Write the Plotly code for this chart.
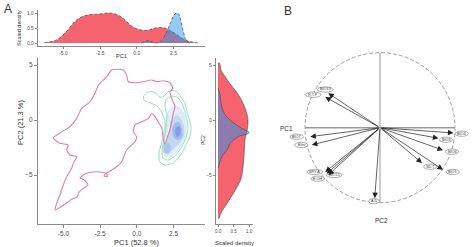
import plotly.graph_objects as go

W, H = 474, 247
FONT = "Liberation Sans"

# ---------------- Panel A data ----------------
# top marginal density of PC1 (scaled)
pc1_red = [-6.3, -5.9, -5.4, -4.8, -4.1, -3.4, -2.5, -1.8, -1.15, -0.67, -0.26, 0.22, 0.7, 1.1, 1.5, 1.9, 2.4, 2.9, 3.4, 3.8, 4.2]
dens_pc1_red = [0.01, 0.04, 0.12, 0.38, 0.77, 0.93, 0.97, 1.0, 0.9, 0.7, 0.53, 0.44, 0.42, 0.48, 0.52, 0.5, 0.38, 0.22, 0.08, 0.03, 0.0]
pc1_blue = [0.3, 0.6, 0.85, 1.1, 1.4, 1.7, 2.0, 2.3, 2.5, 2.7, 2.85, 3.0, 3.2, 3.4, 3.6]
dens_pc1_blue = [0.0, 0.06, 0.08, 0.02, 0.01, 0.08, 0.33, 0.68, 0.9, 1.0, 0.97, 0.75, 0.33, 0.06, 0.0]

# right marginal density of PC2 (scaled)
pc2_red = [5.2, 5.15, 4.5, 3.94, 3.3, 2.73, 2.1, 1.5, 0.6, -0.15, -0.7, -1.06, -1.4, -1.8, -2.7, -3.9, -5.15, -5.8, -6.4, -7.0, -7.6, -8.1, -8.5, -8.9, -8.95]
dens_pc2_red = [0.0, 0.05, 0.1, 0.23, 0.38, 0.55, 0.7, 0.81, 0.93, 0.97, 0.95, 0.93, 0.9, 0.87, 0.85, 0.82, 0.76, 0.67, 0.55, 0.42, 0.29, 0.17, 0.08, 0.04, 0.0]
pc2_blue = [2.9, 2.45, 1.5, 0.6, -0.15, -0.75, -1.15, -1.5, -2.1, -2.7, -3.3, -3.9, -4.4]
dens_pc2_blue = [0.0, 0.05, 0.1, 0.2, 0.45, 0.77, 1.0, 0.67, 0.4, 0.3, 0.13, 0.05, 0.0]

# 2D density contour of group 1 (pink)
pink_pc1 = [-1.38, -0.93, -0.70, -0.58, -0.12, 0.44, 1.02, 1.36, 1.81, 2.26, 2.45, 2.26, 2.38, 2.60, 2.49, 2.40, 2.26, 2.06, 1.92,
            1.79, 1.70, 1.45, 1.24, 1.02, 0.79, 0.34, -0.12, -0.24, -0.01, -0.12, -0.35, -0.69, -1.03, -1.37, -1.71, -2.10,
            -2.24, -2.00, -2.10, -2.51, -3.05, -3.53, -3.87, -3.60, -3.33, -3.60, -3.94, -4.08, -4.42, -4.69, -5.10, -5.58,
            -5.46, -5.24, -5.01, -4.78, -4.44, -4.33, -4.10, -4.55, -4.78, -4.67, -5.24, -5.70, -5.24, -4.55, -4.10, -3.76,
            -3.19, -2.85, -2.62, -2.05, -1.71, -1.38]
pink_pc2 = [4.61, 4.55, 4.09, 3.48, 3.39, 3.48, 3.64, 3.48, 3.57, 3.39, 2.88, 2.57, 1.97, 1.21, 0.61, 0.0, -0.91, -1.64, -2.18,
            -1.64, -0.73, -0.15, 0.30, 0.59, 0.15, -0.15, -0.45, -1.06, -1.52, -1.97, -2.27, -2.73, -3.79, -4.25, -4.55, -4.85,
            -5.09, -5.15, -4.85, -4.73, -4.73, -4.91, -5.27, -5.45, -5.91, -6.18, -6.55, -7.00, -7.18, -7.45, -7.82, -8.18,
            -7.57, -6.82, -5.91, -5.15, -4.39, -3.94, -3.34, -3.18, -2.73, -2.27, -2.12, -1.64, -1.18, -0.61, 0.15, 1.06,
            1.66, 2.43, 3.18, 3.94, 4.55, 4.61]

# 2D density contours of group 2 (green lines, blue fills)
g1_pc1 = [0.44, 0.67, 1.02, 1.31, 1.58, 1.85, 2.13, 2.40, 2.74, 3.01, 3.29, 3.49, 3.69, 3.63, 3.29, 2.94, 2.47, 1.92, 1.58, 1.51, 1.70, 1.85, 1.92, 1.72, 1.38, 0.90, 0.56, 0.44]
g1_pc2 = [2.09, 2.45, 2.59, 2.45, 2.05, 2.18, 2.55, 2.68, 2.59, 2.09, 1.45, 0.45, -0.55, -1.45, -2.45, -3.27, -3.91, -4.09, -3.82, -3.0, -2.09, -1.18, -0.27, 0.64, 1.27, 1.55, 1.73, 2.09]
g2_pc1 = [1.99, 2.40, 2.81, 3.15, 3.35, 3.49, 3.35, 3.01, 2.60, 2.13, 1.79, 1.72, 1.85, 1.99, 2.06, 1.92, 1.99]
g2_pc2 = [1.82, 2.18, 2.00, 1.27, 0.36, -0.64, -1.64, -2.55, -3.27, -3.64, -3.45, -2.73, -1.82, -0.73, 0.36, 1.27, 1.82]
g3_pc1 = [2.13, 2.67, 3.15, 3.35, 3.29, 2.88, 2.40, 1.92, 1.79, 1.99, 1.99, 2.13]
g3_pc2 = [0.73, 1.27, 0.73, -0.36, -1.64, -2.55, -3.27, -3.27, -2.36, -1.09, 0.0, 0.73]
g4_pc1 = [2.33, 2.81, 3.15, 3.22, 2.88, 2.40, 1.99, 1.85, 2.13, 2.26, 2.33]
g4_pc2 = [0.0, 0.36, -0.36, -1.36, -2.09, -2.73, -3.0, -2.36, -1.64, -0.73, 0.0]
g5_pc1 = [2.54, 2.88, 3.08, 3.08, 2.81, 2.54, 2.40, 2.54]
g5_pc2 = [-0.36, -0.18, -0.73, -1.55, -1.82, -1.64, -1.0, -0.36]
g6_pc1 = [1.85, 2.19, 2.33, 2.13, 1.85, 1.85]
g6_pc2 = [-2.27, -2.09, -2.64, -3.09, -2.91, -2.27]
g7_pc1 = [2.67, 2.94, 3.01, 2.81, 2.60, 2.67]
g7_pc2 = [-0.64, -0.55, -1.18, -1.55, -1.27, -0.64]

pc1_ticks = [-5.0, -2.5, 0.0, 2.5]
pc1_ticktext = ["-5.0", "-2.5", "0.0", "2.5"]
pc2_ticks = [-5, 0, 5]
dens_ticks = [0.0, 0.5, 1.0]
dens_ticktext = ["0.0", "0.5", "1.0"]

# ---------------- Panel B data ----------------
var_names = ["BIO19", "R.T.P", "BIO7", "Elev", "SRY.A", "E.CH", "BIO15", "A.D", "BIO4", "BIO3", "BIO6", "SD.T", "BIO1"]
load_pc1 = [-0.69, -0.73, -0.93, -0.91, -0.73, -0.71, -0.69, -0.07, 0.98, 0.78, 0.84, 0.56, 0.84]
load_pc2 = [0.46, 0.41, -0.12, -0.23, -0.59, -0.61, -0.63, -0.94, -0.07, -0.14, -0.30, -0.47, -0.56]
lab_pc1 = [-0.73, -0.89, -1.11, -1.05, -0.87, -0.83, -0.61, -0.08, 1.09, 0.88, 0.96, 0.67, 0.97]
lab_pc2 = [0.51, 0.44, -0.12, -0.23, -0.59, -0.68, -0.63, -0.98, -0.08, -0.16, -0.32, -0.52, -0.59]

RED = "#F5636E"
BLUE = "rgba(35,150,235,0.5)"
PINK = "#EE7AA2"
GREEN = "#8FE2BD"

fig = go.Figure()

# top density
fig.add_trace(go.Scatter(x=pc1_red, y=dens_pc1_red, mode="lines", fill="tozeroy", fillcolor=RED,
                         line=dict(color="#555", width=0.8, dash="3px,2px", shape="spline"), xaxis="x2", yaxis="y2"))
fig.add_trace(go.Scatter(x=pc1_blue, y=dens_pc1_blue, mode="lines", fill="tozeroy", fillcolor=BLUE,
                         line=dict(color="#555", width=0.8, dash="3px,2px", shape="spline"), xaxis="x2", yaxis="y2"))
# right density
fig.add_trace(go.Scatter(x=dens_pc2_red, y=pc2_red, mode="lines", fill="tozerox", fillcolor=RED,
                         line=dict(color="#444", width=0.6, shape="spline"), xaxis="x3", yaxis="y3"))
fig.add_trace(go.Scatter(x=dens_pc2_blue, y=pc2_blue, mode="lines", fill="tozerox", fillcolor=BLUE,
                         line=dict(color="#444", width=0.6, shape="spline"), xaxis="x3", yaxis="y3"))

# contours: blue fills
fills = [(g3_pc1, g3_pc2, "rgba(200,222,245,0.55)"), (g4_pc1, g4_pc2, "rgba(172,198,240,0.55)"),
         (g5_pc1, g5_pc2, "rgba(140,168,235,0.6)"), (g6_pc1, g6_pc2, "rgba(150,178,236,0.55)"),
         (g7_pc1, g7_pc2, "rgba(115,145,230,0.65)")]
for fx, fy, fc in fills:
    fig.add_trace(go.Scatter(x=fx, y=fy, mode="lines", fill="toself", fillcolor=fc,
                             line=dict(color="rgba(160,215,220,0.6)", width=0.6, shape="spline", smoothing=0.8),
                             xaxis="x", yaxis="y"))
for gx, gy in [(g1_pc1, g1_pc2), (g2_pc1, g2_pc2)]:
    fig.add_trace(go.Scatter(x=gx, y=gy, mode="lines", line=dict(color=GREEN, width=1, shape="spline", smoothing=0.8),
                             xaxis="x", yaxis="y"))
fig.add_trace(go.Scatter(x=pink_pc1, y=pink_pc2, mode="lines", line=dict(color=PINK, width=1.1, shape="spline", smoothing=0.6),
                         xaxis="x", yaxis="y"))

axis_common = dict(showgrid=False, zeroline=False, showline=True, linecolor="#8a8a8a", linewidth=1.2,
                   ticks="outside", ticklen=3, tickwidth=0.8, tickcolor="#8a8a8a",
                   tickfont=dict(family=FONT, size=6.5, color="#4d4d4d"))

x_main = [38 / W, 205 / W]
y_main = [1 - 224 / H, 1 - 58 / H]
xr_main = [(38 - 136.8) / 14.67, (205 - 136.8) / 14.67]
yr_main = [(120 - 224) / 11, (120 - 58) / 11]

fig.update_layout(
    width=W, height=H, margin=dict(l=0, r=0, t=0, b=0), showlegend=False,
    paper_bgcolor="white", plot_bgcolor="rgba(0,0,0,0)",
    xaxis=dict(domain=x_main, range=xr_main, anchor="y", tickvals=pc1_ticks, ticktext=pc1_ticktext, **axis_common),
    yaxis=dict(domain=y_main, range=yr_main, anchor="x", tickvals=pc2_ticks, **axis_common),
    xaxis2=dict(domain=x_main, range=xr_main, anchor="y2", tickvals=pc1_ticks, ticktext=pc1_ticktext,
                **{**axis_common, "tickfont": dict(family=FONT, size=5, color="#4d4d4d"), "ticklen": 2}),
    yaxis2=dict(domain=[1 - 46 / H, 1 - 10 / H], range=[-0.1, 1.1], anchor="x2", tickvals=dens_ticks, ticktext=dens_ticktext,
                **{**axis_common, "tickfont": dict(family=FONT, size=5, color="#4d4d4d"), "ticklen": 2}),
    xaxis3=dict(domain=[216 / W, 253 / W], range=[(216 - 218) / 31, (253 - 218) / 31], anchor="y3",
                tickvals=dens_ticks, ticktext=dens_ticktext,
                **{**axis_common, "tickfont": dict(family=FONT, size=4.5, color="#4d4d4d"), "ticklen": 2}),
    yaxis3=dict(domain=y_main, range=yr_main, anchor="x3", tickvals=pc2_ticks,
                **{**axis_common, "tickfont": dict(family=FONT, size=5, color="#4d4d4d"), "ticklen": 2}),
    xaxis4=dict(domain=[285 / W, 474 / W], range=[(285 - 380) / 75, (474 - 380) / 75], anchor="y4", visible=False),
    yaxis4=dict(domain=[1 - 225 / H, 1 - 35 / H], range=[(127.7 - 225) / 75, (127.7 - 35) / 75], anchor="x4", visible=False),
)

# Panel B guides
fig.add_shape(type="circle", xref="x4", yref="y4", x0=-1, x1=1, y0=-1, y1=1,
              line=dict(color="#888", width=0.8, dash="4px,2px"))
fig.add_shape(type="line", xref="x4", yref="y4", x0=-1, x1=1, y0=0, y1=0, line=dict(color="#999", width=1.6))
fig.add_shape(type="line", xref="x4", yref="y4", x0=0, x1=0, y0=-1, y1=1, line=dict(color="#999", width=1))

for name, x, y, lx, ly in zip(var_names, load_pc1, load_pc2, lab_pc1, lab_pc2):
    fig.add_annotation(x=x, y=y, ax=0, ay=0, xref="x4", yref="y4", axref="x4", ayref="y4", text="",
                       showarrow=True, arrowhead=2, arrowsize=1.6, arrowwidth=0.7, arrowcolor="#222")
    hw = 0.017 * len(name) + 0.02
    fig.add_shape(type="circle", xref="x4", yref="y4", x0=lx - hw, x1=lx + hw, y0=ly - 0.035, y1=ly + 0.035,
                  line=dict(color="#777", width=0.6), fillcolor="white")
    fig.add_annotation(x=lx, y=ly, xref="x4", yref="y4", text=name, showarrow=False,
                       font=dict(family=FONT, size=3.8, color="#333"))

# Text annotations (panel letters, axis titles)
def ann(text, px, py, size, angle=0, color="#333"):
    fig.add_annotation(x=px / W, y=1 - py / H, xref="paper", yref="paper", text=text, showarrow=False,
                       textangle=angle, font=dict(family=FONT, size=size, color=color),
                       xanchor="center", yanchor="middle")

ann("A", 8, 9, 12)
ann("B", 288, 11, 12)
ann("Scaled density", 19, 28, 5.5, -90)
ann("PC1", 121, 56, 5.5)
ann("PC2 (21.3 %)", 20, 122, 7.5, -90)
ann("PC1 (52.8 %)", 137, 242, 7.5)
ann("PC2", 203, 140, 5, -90)
ann("Scaled density", 234, 243, 6)
ann("PC1", 286, 128, 6.5)
ann("PC2", 381, 220, 6.5)

fig.write_html("out.html")
